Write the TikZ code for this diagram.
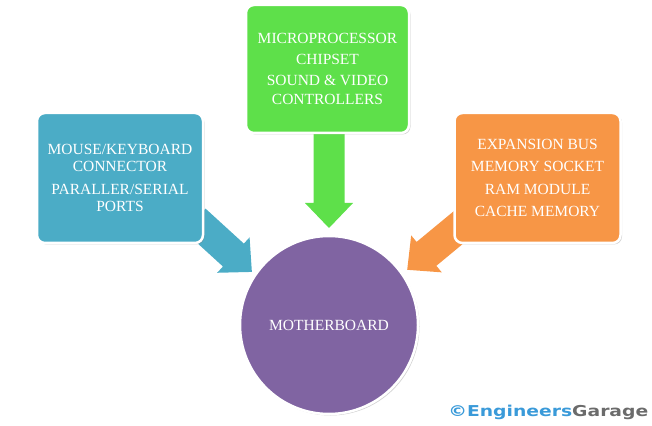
\documentclass[tikz,border=0pt]{standalone}
\usepackage{fontspec}
\setmainfont{Liberation Serif}
\newfontfamily\wmfont{DejaVu Sans}
\usetikzlibrary{shadows}
\definecolor{cblue}{HTML}{4BACC6}
\definecolor{cgreen}{HTML}{5EE04A}
\definecolor{corange}{HTML}{F79646}
\definecolor{cpurple}{HTML}{8064A2}
\definecolor{wmblue}{HTML}{3A9AD9}
\definecolor{wmgray}{HTML}{6B6B6B}
\tikzset{
  boxst/.style={draw=white, line width=2.5pt, rounded corners=8pt, text=white,
    minimum width=166pt, minimum height=130pt, align=center,
    font=\fontsize{15.5}{21}\selectfont, inner sep=0pt,
    drop shadow={shadow xshift=1.5pt, shadow yshift=-1.5pt, opacity=0.35}}
}
\begin{document}
\begin{tikzpicture}[x=1pt,y=1pt]
\useasboundingbox (0,0) rectangle (652,425);
% block arrows (start at origin, pointing along +x, tip at L)
\begin{scope}[shift={(195,205)}, rotate=-42.4]
  \fill[cblue] (0,-15.5) -- (52,-15.5) -- (52,-24) -- (77,0) -- (52,24) -- (52,15.5) -- (0,15.5) -- cycle;
\end{scope}
\begin{scope}[shift={(465,203)}, rotate=219.6]
  \fill[corange] (0,-15.5) -- (50,-15.5) -- (50,-24) -- (75,0) -- (50,24) -- (50,15.5) -- (0,15.5) -- cycle;
\end{scope}
\begin{scope}[shift={(329,292)}, rotate=-90]
  \fill[cgreen] (0,-15.5) -- (70,-15.5) -- (70,-24) -- (95,0) -- (70,24) -- (70,15.5) -- (0,15.5) -- cycle;
\end{scope}
% boxes
\node[boxst, fill=cblue] (b) at (120,247) {MOUSE/KEYBOARD\\[-4pt]CONNECTOR\\[2pt]PARALLER/SERIAL\\[-4pt]PORTS};
\node[boxst, fill=cgreen, minimum width=163pt, minimum height=128pt] (g) at (327.5,356) {MICROPROCESSOR\\CHIPSET\\SOUND \& VIDEO\\[-2pt]CONTROLLERS};
\node[boxst, fill=corange] (o) at (537.5,247) {EXPANSION BUS\\[1pt]MEMORY SOCKET\\[2pt]RAM MODULE\\[1pt]CACHE MEMORY};
% circle
\node[circle, draw=white, line width=2.5pt, fill=cpurple, minimum size=178pt, text=white,
  font=\fontsize{15.5}{16}\selectfont,
  drop shadow={shadow xshift=1.5pt, shadow yshift=-1.5pt, opacity=0.35}] (m) at (329,100) {MOTHERBOARD};
% watermark
\node[anchor=west, inner sep=0pt, xscale=1.25, font=\wmfont\bfseries\fontsize{15}{15}\selectfont] (wm) at (448,13)
  {\textcolor{wmblue}{©Engineers}\textcolor{wmgray}{Garage}};
\end{tikzpicture}
\end{document}
